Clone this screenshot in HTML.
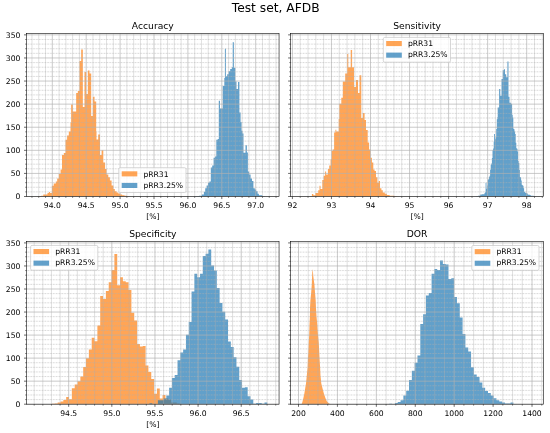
<!DOCTYPE html>
<html lang="en"><head><meta charset="utf-8"><title>Test set, AFDB</title>
<style>html,body{margin:0;padding:0;background:#fff}svg{display:block}</style></head>
<body>
<svg width="550" height="433" viewBox="0 0 550 433" font-family='"DejaVu Sans", "Liberation Sans", sans-serif' fill="#000">
<rect width="550" height="433" fill="#fff"/>
<text x="275.7" y="12.4" text-anchor="middle" font-size="12.25">Test set, AFDB</text>
<clipPath id="c0"><rect x="26.6" y="33.55" width="252.45" height="162.95"/></clipPath>
<rect x="26.6" y="33.55" width="252.45" height="162.95" fill="#fff"/>
<g clip-path="url(#c0)">
<path d="M37.75,196.5L37.75,196.34L39.42,196.34L39.42,196.02L41.09,196.02L41.09,195.81L42.76,195.81L42.76,195.67L43.3,195.67L43.3,194.5L47.5,194.5L47.5,193.1L48.9,193.1L48.9,191.9L50,191.9L50,193L51.9,193L51.9,185.8L53.7,185.8L53.7,183.4L55.8,183.4L55.8,181.6L57.2,181.6L57.2,178.6L58.8,178.6L58.8,174.1L60.6,174.1L60.6,169.6L62,169.6L62,155L63.8,155L63.8,152.9L65.5,152.9L65.5,139.8L67.1,139.8L67.1,135.6L68.8,135.6L68.8,131.6L70.5,131.6L70.5,122.8L71.15,122.8L71.15,104.5L72.82,104.5L72.82,111.5L74.49,111.5L74.49,111.5L76.16,111.5L76.16,92.9L77.83,92.9L77.83,91L79.5,91L79.5,61L81.17,61L81.17,49.6L82.84,49.6L82.84,107L84.51,107L84.51,72L86.18,72L86.18,94L87.85,94L87.85,70.5L89.52,70.5L89.52,73.5L91.19,73.5L91.19,116L92.86,116L92.86,96.8L94.53,96.8L94.53,101.5L96.2,101.5L96.2,131.6L96.5,131.6L96.5,139.5L98.2,139.5L98.2,134.6L100,134.6L100,155L101.6,155L101.6,150.2L103.3,150.2L103.3,162.6L105.1,162.6L105.1,168.9L106.5,168.9L106.5,174.4L108.3,174.4L108.3,177.2L109.9,177.2L109.9,180.6L111.6,180.6L111.6,185.5L113.4,185.5L113.4,189L114.8,189L114.8,191.3L116.6,191.3L116.6,192.4L118.3,192.4L118.3,193.5L120.3,193.5L120.3,194.5L122.1,194.5L122.1,195.2L124.5,195.2L124.5,195.8L127,195.8L127,196.2L129,196.2L129,196.4L129.6,196.4L129.6,196.5Z" fill="#ff7f0e" fill-opacity="0.7"/>
<path d="M195,196.5L195,196.31L196.37,196.31L196.37,196.01L197.74,196.01L197.74,195.91L199.11,195.91L199.11,195.82L200.48,195.82L200.48,195.72L201.8,195.72L201.8,194.5L203.9,194.5L203.9,191.7L205.2,191.7L205.2,188.3L206.6,188.3L206.6,185.5L208,185.5L208,182.7L209.4,182.7L209.4,181.6L210.8,181.6L210.8,167.5L212.2,167.5L212.2,165.4L213.6,165.4L213.6,157.8L214.9,157.8L214.9,156.4L216.3,156.4L216.3,139.8L217.7,139.8L217.7,139L218.8,139L218.8,100.7L220,100.7L220,108.6L222.7,108.6L222.7,86L224.3,86L224.3,78L224.9,78L224.9,48.7L225.9,48.7L225.9,76.2L227.2,76.2L227.2,74.2L228.6,74.2L228.6,71.3L230.2,71.3L230.2,68.9L231.8,68.9L231.8,67.3L232.7,67.3L232.7,42.2L233.9,42.2L233.9,67.7L235.3,67.7L235.3,81.5L236.5,81.5L236.5,88.9L238,88.9L238,82L239.4,82L239.4,112.5L240.6,112.5L240.6,122L241.6,122L241.6,130.7L242.5,130.7L242.5,133.6L243.5,133.6L243.5,152.8L245.5,152.8L245.5,145.3L246.9,145.3L246.9,152.5L247.9,152.5L247.9,171.6L249.2,171.6L249.2,174.4L250.6,174.4L250.6,178.6L252,178.6L252,181.1L253.4,181.1L253.4,188.3L254.8,188.3L254.8,189.4L256.2,189.4L256.2,191.3L257.6,191.3L257.6,193.8L258.9,193.8L258.9,195.2L262.4,195.2L262.4,196L264.87,196L264.87,196.5Z" fill="#1f77b4" fill-opacity="0.7"/>
<path d="M31.96,33.55V196.5M38.74,33.55V196.5M45.52,33.55V196.5M59.08,33.55V196.5M65.86,33.55V196.5M72.64,33.55V196.5M79.42,33.55V196.5M92.98,33.55V196.5M99.76,33.55V196.5M106.54,33.55V196.5M113.32,33.55V196.5M126.88,33.55V196.5M133.66,33.55V196.5M140.44,33.55V196.5M147.22,33.55V196.5M160.78,33.55V196.5M167.56,33.55V196.5M174.34,33.55V196.5M181.12,33.55V196.5M194.68,33.55V196.5M201.46,33.55V196.5M208.24,33.55V196.5M215.02,33.55V196.5M228.58,33.55V196.5M235.36,33.55V196.5M242.14,33.55V196.5M248.92,33.55V196.5M262.48,33.55V196.5M269.26,33.55V196.5M276.04,33.55V196.5" stroke="#b0b0b0" stroke-width="0.65" stroke-opacity="0.6" fill="none"/>
<path d="M26.6,191.88H279.05M26.6,187.26H279.05M26.6,182.65H279.05M26.6,178.03H279.05M26.6,168.79H279.05M26.6,164.17H279.05M26.6,159.56H279.05M26.6,154.94H279.05M26.6,145.7H279.05M26.6,141.08H279.05M26.6,136.47H279.05M26.6,131.85H279.05M26.6,122.61H279.05M26.6,117.99H279.05M26.6,113.38H279.05M26.6,108.76H279.05M26.6,99.52H279.05M26.6,94.9H279.05M26.6,90.29H279.05M26.6,85.67H279.05M26.6,76.43H279.05M26.6,71.81H279.05M26.6,67.2H279.05M26.6,62.58H279.05M26.6,53.34H279.05M26.6,48.72H279.05M26.6,44.11H279.05M26.6,39.49H279.05" stroke="#b0b0b0" stroke-width="0.75" stroke-opacity="0.8" stroke-dasharray="0.8 0.75" fill="none"/>
<path d="M52.3,33.55V196.5M86.2,33.55V196.5M120.1,33.55V196.5M154,33.55V196.5M187.9,33.55V196.5M221.8,33.55V196.5M255.7,33.55V196.5M26.6,196.5H279.05M26.6,173.41H279.05M26.6,150.32H279.05M26.6,127.23H279.05M26.6,104.14H279.05M26.6,81.05H279.05M26.6,57.96H279.05M26.6,34.87H279.05" stroke="#b0b0b0" stroke-width="0.75" stroke-opacity="0.9" fill="none"/>
</g>
<path d="M52.3,196.5v2.6M86.2,196.5v2.6M120.1,196.5v2.6M154,196.5v2.6M187.9,196.5v2.6M221.8,196.5v2.6M255.7,196.5v2.6M26.6,196.5h-2.6M26.6,173.41h-2.6M26.6,150.32h-2.6M26.6,127.23h-2.6M26.6,104.14h-2.6M26.6,81.05h-2.6M26.6,57.96h-2.6M26.6,34.87h-2.6" stroke="#000" stroke-width="0.58" fill="none"/>
<path d="M31.96,196.5v1.5M38.74,196.5v1.5M45.52,196.5v1.5M59.08,196.5v1.5M65.86,196.5v1.5M72.64,196.5v1.5M79.42,196.5v1.5M92.98,196.5v1.5M99.76,196.5v1.5M106.54,196.5v1.5M113.32,196.5v1.5M126.88,196.5v1.5M133.66,196.5v1.5M140.44,196.5v1.5M147.22,196.5v1.5M160.78,196.5v1.5M167.56,196.5v1.5M174.34,196.5v1.5M181.12,196.5v1.5M194.68,196.5v1.5M201.46,196.5v1.5M208.24,196.5v1.5M215.02,196.5v1.5M228.58,196.5v1.5M235.36,196.5v1.5M242.14,196.5v1.5M248.92,196.5v1.5M262.48,196.5v1.5M269.26,196.5v1.5M276.04,196.5v1.5M26.6,191.88h-1.5M26.6,187.26h-1.5M26.6,182.65h-1.5M26.6,178.03h-1.5M26.6,168.79h-1.5M26.6,164.17h-1.5M26.6,159.56h-1.5M26.6,154.94h-1.5M26.6,145.7h-1.5M26.6,141.08h-1.5M26.6,136.47h-1.5M26.6,131.85h-1.5M26.6,122.61h-1.5M26.6,117.99h-1.5M26.6,113.38h-1.5M26.6,108.76h-1.5M26.6,99.52h-1.5M26.6,94.9h-1.5M26.6,90.29h-1.5M26.6,85.67h-1.5M26.6,76.43h-1.5M26.6,71.81h-1.5M26.6,67.2h-1.5M26.6,62.58h-1.5M26.6,53.34h-1.5M26.6,48.72h-1.5M26.6,44.11h-1.5M26.6,39.49h-1.5" stroke="#000" stroke-width="0.44" fill="none"/>
<rect x="26.6" y="33.55" width="252.45" height="162.95" fill="none" stroke="#000" stroke-width="0.58"/>
<text x="52.3" y="208.4" text-anchor="middle" font-size="7.65">94.0</text>
<text x="86.2" y="208.4" text-anchor="middle" font-size="7.65">94.5</text>
<text x="120.1" y="208.4" text-anchor="middle" font-size="7.65">95.0</text>
<text x="154" y="208.4" text-anchor="middle" font-size="7.65">95.5</text>
<text x="187.9" y="208.4" text-anchor="middle" font-size="7.65">96.0</text>
<text x="221.8" y="208.4" text-anchor="middle" font-size="7.65">96.5</text>
<text x="255.7" y="208.4" text-anchor="middle" font-size="7.65">97.0</text>
<text x="20.4" y="199.2" text-anchor="end" font-size="7.65">0</text>
<text x="20.4" y="176.11" text-anchor="end" font-size="7.65">50</text>
<text x="20.4" y="153.02" text-anchor="end" font-size="7.65">100</text>
<text x="20.4" y="129.93" text-anchor="end" font-size="7.65">150</text>
<text x="20.4" y="106.84" text-anchor="end" font-size="7.65">200</text>
<text x="20.4" y="83.75" text-anchor="end" font-size="7.65">250</text>
<text x="20.4" y="60.66" text-anchor="end" font-size="7.65">300</text>
<text x="20.4" y="37.57" text-anchor="end" font-size="7.65">350</text>
<text x="152.83" y="219.1" text-anchor="middle" font-size="7.65">[%]</text>
<text x="152.83" y="29.15" text-anchor="middle" font-size="9.2">Accuracy</text>
<rect x="118.8" y="167.7" width="67.2" height="24.8" rx="1.4" fill="#fff" fill-opacity="0.8" stroke="#c6c6c6" stroke-width="0.7"/>
<rect x="121.7" y="171.3" width="15.6" height="5.1" fill="#ff7f0e" fill-opacity="0.7"/>
<rect x="121.7" y="182.9" width="15.6" height="5.1" fill="#1f77b4" fill-opacity="0.7"/>
<text x="143.4" y="176.5" font-size="7.65">pRR31</text>
<text x="143.4" y="187.6" font-size="7.65">pRR3.25%</text>
<clipPath id="c1"><rect x="290.7" y="33.55" width="252.75" height="162.95"/></clipPath>
<rect x="290.7" y="33.55" width="252.75" height="162.95" fill="#fff"/>
<g clip-path="url(#c1)">
<path d="M310.5,196.5L310.5,196.36L311.5,196.36L311.5,196.3L311.9,196.3L311.9,194.1L313.3,194.1L313.3,195.3L315.4,195.3L315.4,193.1L318.2,193.1L318.2,190.3L319.5,190.3L319.5,185.8L320.5,185.8L320.5,189L322.3,189L322.3,180L323.7,180L323.7,175.8L325.1,175.8L325.1,171.6L326.1,171.6L326.1,174.4L327.9,174.4L327.9,168.9L329.2,168.9L329.2,165.4L330.6,165.4L330.6,159.2L331.6,159.2L331.6,150.9L332.7,150.9L332.7,149.5L334.1,149.5L334.1,132.6L335.4,132.6L335.4,129.7L336.3,129.7L336.3,131.6L338.7,131.6L338.7,118.9L339.3,118.9L339.3,103.7L341.3,103.7L341.3,97.8L342.8,97.8L342.8,81.5L345.2,81.5L345.2,73.6L347.2,73.6L347.2,54L348.3,54L348.3,67.3L350.7,67.3L350.7,50L352.1,50L352.1,67.3L354,67.3L354,87L356,87L356,80.1L358,80.1L358,92.9L359.5,92.9L359.5,75.2L361.3,75.2L361.3,117.9L362.9,117.9L362.9,113L364.6,113L364.6,119.9L366,119.9L366,130L367.7,130L367.7,142.5L369.1,142.5L369.1,149.5L370.5,149.5L370.5,157.8L371.9,157.8L371.9,162.6L373.3,162.6L373.3,169.6L374.6,169.6L374.6,170.9L376,170.9L376,177.2L377.4,177.2L377.4,182.7L378.7,182.7L378.7,181.1L380,181.1L380,188.3L381.4,188.3L381.4,190.3L382.8,190.3L382.8,192.4L384.8,192.4L384.8,193.8L386.9,193.8L386.9,194.9L389.6,194.9L389.6,195.7L394.3,195.7L394.3,196.1L397,196.1L397,196.4L397.5,196.4L397.5,196.5Z" fill="#ff7f0e" fill-opacity="0.7"/>
<path d="M475.5,196.5L475.5,196.37L476.1,196.37L476.1,196.31L476.7,196.31L476.7,196.03L477.3,196.03L477.3,195.95L477.9,195.95L477.9,195.86L478.5,195.86L478.5,195.78L479.1,195.78L479.1,195.69L479.7,195.69L479.7,195.61L480.3,195.61L480.3,194.49L480.9,194.49L480.9,194.44L481.5,194.44L481.5,194.38L482.1,194.38L482.1,194.33L482.7,194.33L482.7,194.28L483.3,194.28L483.3,194.22L483.9,194.22L483.9,194.17L484.5,194.17L484.5,192.95L485.1,192.95L485.1,192.2L485.6,192.2L485.6,182.7L486.5,182.7L486.5,188.65L487.1,188.65L487.1,185.49L487.7,185.49L487.7,179.73L488.3,179.73L488.3,179.31L488.9,179.31L488.9,177.08L489.5,177.08L489.5,175.63L490.1,175.63L490.1,169.87L490.7,169.87L490.7,164.77L491.3,164.77L491.3,163.42L491.9,163.42L491.9,157.95L492.5,157.95L492.5,150.3L493.1,150.3L493.1,148.45L493.7,148.45L493.7,141.45L494.1,141.45L494.1,134L495,134L495,139.19L495.6,139.19L495.6,137.34L496.2,137.34L496.2,128.97L496.8,128.97L496.8,119.31L497.4,119.31L497.4,117.07L497.7,117.07L497.7,107.6L499.1,107.6L499.1,88.9L500.3,88.9L500.3,95.8L501.5,95.8L501.5,79.1L502.7,79.1L502.7,70.3L504,70.3L504,69.3L505,69.3L505,74.2L506.2,74.2L506.2,77.2L507.4,77.2L507.4,61.4L508.5,61.4L508.5,96.8L509.5,96.8L509.5,102.7L510.9,102.7L510.9,103.7L512.1,103.7L512.1,114.83L512.7,114.83L512.7,117.49L513.3,117.49L513.3,128.86L513.9,128.86L513.9,129.18L514.5,129.18L514.5,131.54L515.1,131.54L515.1,134.06L515.7,134.06L515.7,142.69L516.3,142.69L516.3,148.37L516.9,148.37L516.9,148.79L517.5,148.79L517.5,151.56L518.1,151.56L518.1,161.1L518.7,161.1L518.7,162.94L519.3,162.94L519.3,170.02L519.9,170.02L519.9,176.92L520.5,176.92L520.5,177.62L521.1,177.62L521.1,180.49L521.7,180.49L521.7,184.7L522.3,184.7L522.3,185.17L522.9,185.17L522.9,185.64L523.5,185.64L523.5,188.3L524.1,188.3L524.1,191.64L524.7,191.64L524.7,191.85L525.3,191.85L525.3,192.9L525.9,192.9L525.9,193.07L526.5,193.07L526.5,193.24L527.1,193.24L527.1,193.4L527.7,193.4L527.7,194.56L528.3,194.56L528.3,194.64L528.9,194.64L528.9,194.72L529.5,194.72L529.5,194.81L530.1,194.81L530.1,194.89L530.7,194.89L530.7,195.72L531.3,195.72L531.3,195.75L531.9,195.75L531.9,195.79L532.5,195.79L532.5,195.82L533.1,195.82L533.1,195.85L533.7,195.85L533.7,195.88L534.3,195.88L534.3,196.3L534.9,196.3L534.9,196.32L535.5,196.32L535.5,196.33L536.1,196.33L536.1,196.5Z" fill="#1f77b4" fill-opacity="0.7"/>
<path d="M300.21,33.55V196.5M308.02,33.55V196.5M315.83,33.55V196.5M323.64,33.55V196.5M339.26,33.55V196.5M347.07,33.55V196.5M354.88,33.55V196.5M362.69,33.55V196.5M378.31,33.55V196.5M386.12,33.55V196.5M393.93,33.55V196.5M401.74,33.55V196.5M417.36,33.55V196.5M425.17,33.55V196.5M432.98,33.55V196.5M440.79,33.55V196.5M456.41,33.55V196.5M464.22,33.55V196.5M472.03,33.55V196.5M479.84,33.55V196.5M495.46,33.55V196.5M503.27,33.55V196.5M511.08,33.55V196.5M518.89,33.55V196.5M534.51,33.55V196.5M542.32,33.55V196.5" stroke="#b0b0b0" stroke-width="0.65" stroke-opacity="0.6" fill="none"/>
<path d="M290.7,191.88H543.45M290.7,187.26H543.45M290.7,182.65H543.45M290.7,178.03H543.45M290.7,168.79H543.45M290.7,164.17H543.45M290.7,159.56H543.45M290.7,154.94H543.45M290.7,145.7H543.45M290.7,141.08H543.45M290.7,136.47H543.45M290.7,131.85H543.45M290.7,122.61H543.45M290.7,117.99H543.45M290.7,113.38H543.45M290.7,108.76H543.45M290.7,99.52H543.45M290.7,94.9H543.45M290.7,90.29H543.45M290.7,85.67H543.45M290.7,76.43H543.45M290.7,71.81H543.45M290.7,67.2H543.45M290.7,62.58H543.45M290.7,53.34H543.45M290.7,48.72H543.45M290.7,44.11H543.45M290.7,39.49H543.45" stroke="#b0b0b0" stroke-width="0.75" stroke-opacity="0.8" stroke-dasharray="0.8 0.75" fill="none"/>
<path d="M292.4,33.55V196.5M331.45,33.55V196.5M370.5,33.55V196.5M409.55,33.55V196.5M448.6,33.55V196.5M487.65,33.55V196.5M526.7,33.55V196.5M290.7,196.5H543.45M290.7,173.41H543.45M290.7,150.32H543.45M290.7,127.23H543.45M290.7,104.14H543.45M290.7,81.05H543.45M290.7,57.96H543.45M290.7,34.87H543.45" stroke="#b0b0b0" stroke-width="0.75" stroke-opacity="0.9" fill="none"/>
</g>
<path d="M292.4,196.5v2.6M331.45,196.5v2.6M370.5,196.5v2.6M409.55,196.5v2.6M448.6,196.5v2.6M487.65,196.5v2.6M526.7,196.5v2.6M290.7,196.5h-2.6M290.7,173.41h-2.6M290.7,150.32h-2.6M290.7,127.23h-2.6M290.7,104.14h-2.6M290.7,81.05h-2.6M290.7,57.96h-2.6M290.7,34.87h-2.6" stroke="#000" stroke-width="0.58" fill="none"/>
<path d="M300.21,196.5v1.5M308.02,196.5v1.5M315.83,196.5v1.5M323.64,196.5v1.5M339.26,196.5v1.5M347.07,196.5v1.5M354.88,196.5v1.5M362.69,196.5v1.5M378.31,196.5v1.5M386.12,196.5v1.5M393.93,196.5v1.5M401.74,196.5v1.5M417.36,196.5v1.5M425.17,196.5v1.5M432.98,196.5v1.5M440.79,196.5v1.5M456.41,196.5v1.5M464.22,196.5v1.5M472.03,196.5v1.5M479.84,196.5v1.5M495.46,196.5v1.5M503.27,196.5v1.5M511.08,196.5v1.5M518.89,196.5v1.5M534.51,196.5v1.5M542.32,196.5v1.5M290.7,191.88h-1.5M290.7,187.26h-1.5M290.7,182.65h-1.5M290.7,178.03h-1.5M290.7,168.79h-1.5M290.7,164.17h-1.5M290.7,159.56h-1.5M290.7,154.94h-1.5M290.7,145.7h-1.5M290.7,141.08h-1.5M290.7,136.47h-1.5M290.7,131.85h-1.5M290.7,122.61h-1.5M290.7,117.99h-1.5M290.7,113.38h-1.5M290.7,108.76h-1.5M290.7,99.52h-1.5M290.7,94.9h-1.5M290.7,90.29h-1.5M290.7,85.67h-1.5M290.7,76.43h-1.5M290.7,71.81h-1.5M290.7,67.2h-1.5M290.7,62.58h-1.5M290.7,53.34h-1.5M290.7,48.72h-1.5M290.7,44.11h-1.5M290.7,39.49h-1.5" stroke="#000" stroke-width="0.44" fill="none"/>
<rect x="290.7" y="33.55" width="252.75" height="162.95" fill="none" stroke="#000" stroke-width="0.58"/>
<text x="292.4" y="208.4" text-anchor="middle" font-size="7.65">92</text>
<text x="331.45" y="208.4" text-anchor="middle" font-size="7.65">93</text>
<text x="370.5" y="208.4" text-anchor="middle" font-size="7.65">94</text>
<text x="409.55" y="208.4" text-anchor="middle" font-size="7.65">95</text>
<text x="448.6" y="208.4" text-anchor="middle" font-size="7.65">96</text>
<text x="487.65" y="208.4" text-anchor="middle" font-size="7.65">97</text>
<text x="526.7" y="208.4" text-anchor="middle" font-size="7.65">98</text>
<text x="417.08" y="219.1" text-anchor="middle" font-size="7.65">[%]</text>
<text x="417.08" y="29.15" text-anchor="middle" font-size="9.2">Sensitivity</text>
<rect x="383.3" y="37.4" width="67.2" height="24.8" rx="1.4" fill="#fff" fill-opacity="0.8" stroke="#c6c6c6" stroke-width="0.7"/>
<rect x="386.2" y="41" width="15.6" height="5.1" fill="#ff7f0e" fill-opacity="0.7"/>
<rect x="386.2" y="52.6" width="15.6" height="5.1" fill="#1f77b4" fill-opacity="0.7"/>
<text x="407.9" y="46.2" font-size="7.65">pRR31</text>
<text x="407.9" y="57.3" font-size="7.65">pRR3.25%</text>
<clipPath id="c2"><rect x="26.6" y="241.6" width="252.45" height="162.6"/></clipPath>
<rect x="26.6" y="241.6" width="252.45" height="162.6" fill="#fff"/>
<g clip-path="url(#c2)">
<path d="M52,404.2L52,403.7L54.84,403.7L54.84,403.4L57.67,403.4L57.67,402.5L60.51,402.5L60.51,401.5L63.34,401.5L63.34,400L66.18,400L66.18,397L69.02,397L69.02,399.3L71.85,399.3L71.85,388.3L74.69,388.3L74.69,384.4L77.52,384.4L77.52,381.2L80.36,381.2L80.36,376.5L83.2,376.5L83.2,367L86.03,367L86.03,358.2L88.87,358.2L88.87,349.6L91.7,349.6L91.7,337.7L94.54,337.7L94.54,341.2L97.38,341.2L97.38,325.5L100.21,325.5L100.21,296L103.05,296L103.05,298.9L105.88,298.9L105.88,291.1L108.72,291.1L108.72,282.2L111.56,282.2L111.56,269.9L114.39,269.9L114.39,254.1L117.23,254.1L117.23,285.2L120.06,285.2L120.06,277.3L122.9,277.3L122.9,281.3L125.74,281.3L125.74,282.2L128.57,282.2L128.57,290.1L131.41,290.1L131.41,312.7L134.24,312.7L134.24,320.5L137.08,320.5L137.08,344L139.92,344L139.92,346.5L142.75,346.5L142.75,346L145.59,346L145.59,365.6L148.42,365.6L148.42,372.1L151.26,372.1L151.26,378.9L154.1,378.9L154.1,393.7L156.93,393.7L156.93,388.4L159.77,388.4L159.77,398.6L162.6,398.6L162.6,395L165.44,395L165.44,398.6L168.28,398.6L168.28,399.6L171.11,399.6L171.11,402.5L173.95,402.5L173.95,402.5L176.78,402.5L176.78,403.5L179.62,403.5L179.62,404.2Z" fill="#ff7f0e" fill-opacity="0.7"/>
<path d="M149.47,404.2L149.47,403.3L152.28,403.3L152.28,404.2L155.08,404.2L155.08,404.2L157.89,404.2L157.89,400.3L160.69,400.3L160.69,400.3L163.5,400.3L163.5,398.6L166.31,398.6L166.31,395.6L169.11,395.6L169.11,387.8L171.92,387.8L171.92,378L174.72,378L174.72,375L177.53,375L177.53,360.3L180.34,360.3L180.34,352.4L183.14,352.4L183.14,349.5L185.95,349.5L185.95,334.7L188.75,334.7L188.75,322L191.56,322L191.56,291.5L194.37,291.5L194.37,273.8L197.17,273.8L197.17,277.3L199.98,277.3L199.98,273.8L202.78,273.8L202.78,256.1L205.59,256.1L205.59,253.8L208.4,253.8L208.4,249.4L211.2,249.4L211.2,265.5L214.01,265.5L214.01,270.5L216.81,270.5L216.81,288.1L219.62,288.1L219.62,302.9L222.43,302.9L222.43,311.7L225.23,311.7L225.23,319.6L228.04,319.6L228.04,341.6L230.84,341.6L230.84,347.1L233.65,347.1L233.65,357.3L236.46,357.3L236.46,366.8L239.26,366.8L239.26,379.9L242.07,379.9L242.07,387.8L244.87,387.8L244.87,387.2L247.68,387.2L247.68,396.2L250.49,396.2L250.49,399.6L253.29,399.6L253.29,403.7L256.1,403.7L256.1,402.9L258.9,402.9L258.9,402.9L261.71,402.9L261.71,403.7L264.52,403.7L264.52,402.5L267.32,402.5L267.32,404.2Z" fill="#1f77b4" fill-opacity="0.7"/>
<path d="M34.2,241.6V404.2M42.82,241.6V404.2M51.45,241.6V404.2M60.07,241.6V404.2M77.33,241.6V404.2M85.95,241.6V404.2M94.58,241.6V404.2M103.2,241.6V404.2M120.46,241.6V404.2M129.08,241.6V404.2M137.71,241.6V404.2M146.33,241.6V404.2M163.59,241.6V404.2M172.21,241.6V404.2M180.84,241.6V404.2M189.46,241.6V404.2M206.72,241.6V404.2M215.34,241.6V404.2M223.97,241.6V404.2M232.59,241.6V404.2M249.85,241.6V404.2M258.47,241.6V404.2M267.1,241.6V404.2M275.72,241.6V404.2" stroke="#b0b0b0" stroke-width="0.65" stroke-opacity="0.6" fill="none"/>
<path d="M26.6,399.59H279.05M26.6,394.98H279.05M26.6,390.38H279.05M26.6,385.77H279.05M26.6,376.55H279.05M26.6,371.94H279.05M26.6,367.34H279.05M26.6,362.73H279.05M26.6,353.51H279.05M26.6,348.9H279.05M26.6,344.3H279.05M26.6,339.69H279.05M26.6,330.47H279.05M26.6,325.86H279.05M26.6,321.26H279.05M26.6,316.65H279.05M26.6,307.43H279.05M26.6,302.82H279.05M26.6,298.22H279.05M26.6,293.61H279.05M26.6,284.39H279.05M26.6,279.78H279.05M26.6,275.18H279.05M26.6,270.57H279.05M26.6,261.35H279.05M26.6,256.74H279.05M26.6,252.14H279.05M26.6,247.53H279.05" stroke="#b0b0b0" stroke-width="0.75" stroke-opacity="0.8" stroke-dasharray="0.8 0.75" fill="none"/>
<path d="M68.7,241.6V404.2M111.83,241.6V404.2M154.96,241.6V404.2M198.09,241.6V404.2M241.22,241.6V404.2M26.6,404.2H279.05M26.6,381.16H279.05M26.6,358.12H279.05M26.6,335.08H279.05M26.6,312.04H279.05M26.6,289H279.05M26.6,265.96H279.05M26.6,242.92H279.05" stroke="#b0b0b0" stroke-width="0.75" stroke-opacity="0.9" fill="none"/>
</g>
<path d="M68.7,404.2v2.6M111.83,404.2v2.6M154.96,404.2v2.6M198.09,404.2v2.6M241.22,404.2v2.6M26.6,404.2h-2.6M26.6,381.16h-2.6M26.6,358.12h-2.6M26.6,335.08h-2.6M26.6,312.04h-2.6M26.6,289h-2.6M26.6,265.96h-2.6M26.6,242.92h-2.6" stroke="#000" stroke-width="0.58" fill="none"/>
<path d="M34.2,404.2v1.5M42.82,404.2v1.5M51.45,404.2v1.5M60.07,404.2v1.5M77.33,404.2v1.5M85.95,404.2v1.5M94.58,404.2v1.5M103.2,404.2v1.5M120.46,404.2v1.5M129.08,404.2v1.5M137.71,404.2v1.5M146.33,404.2v1.5M163.59,404.2v1.5M172.21,404.2v1.5M180.84,404.2v1.5M189.46,404.2v1.5M206.72,404.2v1.5M215.34,404.2v1.5M223.97,404.2v1.5M232.59,404.2v1.5M249.85,404.2v1.5M258.47,404.2v1.5M267.1,404.2v1.5M275.72,404.2v1.5M26.6,399.59h-1.5M26.6,394.98h-1.5M26.6,390.38h-1.5M26.6,385.77h-1.5M26.6,376.55h-1.5M26.6,371.94h-1.5M26.6,367.34h-1.5M26.6,362.73h-1.5M26.6,353.51h-1.5M26.6,348.9h-1.5M26.6,344.3h-1.5M26.6,339.69h-1.5M26.6,330.47h-1.5M26.6,325.86h-1.5M26.6,321.26h-1.5M26.6,316.65h-1.5M26.6,307.43h-1.5M26.6,302.82h-1.5M26.6,298.22h-1.5M26.6,293.61h-1.5M26.6,284.39h-1.5M26.6,279.78h-1.5M26.6,275.18h-1.5M26.6,270.57h-1.5M26.6,261.35h-1.5M26.6,256.74h-1.5M26.6,252.14h-1.5M26.6,247.53h-1.5" stroke="#000" stroke-width="0.44" fill="none"/>
<rect x="26.6" y="241.6" width="252.45" height="162.6" fill="none" stroke="#000" stroke-width="0.58"/>
<text x="68.7" y="416.1" text-anchor="middle" font-size="7.65">94.5</text>
<text x="111.83" y="416.1" text-anchor="middle" font-size="7.65">95.0</text>
<text x="154.96" y="416.1" text-anchor="middle" font-size="7.65">95.5</text>
<text x="198.09" y="416.1" text-anchor="middle" font-size="7.65">96.0</text>
<text x="241.22" y="416.1" text-anchor="middle" font-size="7.65">96.5</text>
<text x="20.4" y="406.9" text-anchor="end" font-size="7.65">0</text>
<text x="20.4" y="383.86" text-anchor="end" font-size="7.65">50</text>
<text x="20.4" y="360.82" text-anchor="end" font-size="7.65">100</text>
<text x="20.4" y="337.78" text-anchor="end" font-size="7.65">150</text>
<text x="20.4" y="314.74" text-anchor="end" font-size="7.65">200</text>
<text x="20.4" y="291.7" text-anchor="end" font-size="7.65">250</text>
<text x="20.4" y="268.66" text-anchor="end" font-size="7.65">300</text>
<text x="20.4" y="245.62" text-anchor="end" font-size="7.65">350</text>
<text x="152.83" y="426.8" text-anchor="middle" font-size="7.65">[%]</text>
<text x="152.83" y="237.2" text-anchor="middle" font-size="9.2">Specificity</text>
<rect x="30.6" y="245.4" width="67.2" height="24.8" rx="1.4" fill="#fff" fill-opacity="0.8" stroke="#c6c6c6" stroke-width="0.7"/>
<rect x="33.5" y="249" width="15.6" height="5.1" fill="#ff7f0e" fill-opacity="0.7"/>
<rect x="33.5" y="260.6" width="15.6" height="5.1" fill="#1f77b4" fill-opacity="0.7"/>
<text x="55.2" y="254.2" font-size="7.65">pRR31</text>
<text x="55.2" y="265.3" font-size="7.65">pRR3.25%</text>
<clipPath id="c3"><rect x="290.7" y="241.6" width="252.75" height="162.6"/></clipPath>
<rect x="290.7" y="241.6" width="252.75" height="162.6" fill="#fff"/>
<g clip-path="url(#c3)">
<path d="M301.5,404.2L301.5,404.2L302,403.2L302.6,401.3L303.4,398L304.4,393.2L305.2,388.3L306,383.5L306.8,375.4L307.6,367.3L307.9,359.2L308.4,351.2L308.7,343.1L309.2,335L309.35,329.5L309.5,324.7L309.9,316.6L310,308.5L310.4,300.4L311.2,292.3L311.8,284.2L312.1,276.2L312.4,268.9L313,272.5L313.3,276.2L314.4,284.2L315,292.3L315.7,300.4L316,308.5L316.5,316.6L317.3,324.7L317.6,329.5L318,335L318.8,343.1L319.2,351.2L319.6,359.2L320.1,367.3L320.5,375.4L321.3,383.5L322.5,388.3L323.8,393.2L325.4,398L326.8,401.3L329,403.4L331,404.2L331,404.2Z" fill="#ff7f0e" fill-opacity="0.7"/>
<path d="M389.28,404.2L389.28,403.7L392.1,403.7L392.1,404.2L394.92,404.2L394.92,402.9L397.74,402.9L397.74,402.1L400.56,402.1L400.56,400.2L403.38,400.2L403.38,395.6L406.2,395.6L406.2,390.7L409.02,390.7L409.02,379.9L411.84,379.9L411.84,370.7L414.66,370.7L414.66,362.8L417.48,362.8L417.48,355.4L420.3,355.4L420.3,323.9L423.12,323.9L423.12,314.3L425.94,314.3L425.94,295.4L428.76,295.4L428.76,293L431.58,293L431.58,273.8L434.4,273.8L434.4,269.1L437.22,269.1L437.22,269.9L440.04,269.9L440.04,260.6L442.86,260.6L442.86,264L445.68,264L445.68,264.6L448.5,264.6L448.5,278.9L451.32,278.9L451.32,278.3L454.14,278.3L454.14,297L456.96,297L456.96,303.3L459.78,303.3L459.78,317.6L462.6,317.6L462.6,334.1L465.42,334.1L465.42,347.5L468.24,347.5L468.24,351.4L471.06,351.4L471.06,367.2L473.88,367.2L473.88,374.6L476.7,374.6L476.7,377L479.52,377L479.52,382.5L482.34,382.5L482.34,387.8L485.16,387.8L485.16,391.1L487.98,391.1L487.98,393.1L490.8,393.1L490.8,395.6L493.62,395.6L493.62,398.2L496.44,398.2L496.44,400.2L499.26,400.2L499.26,401.5L502.08,401.5L502.08,402.5L504.9,402.5L504.9,403.5L507.72,403.5L507.72,403.5L510.54,403.5L510.54,402.5L513.36,402.5L513.36,403.9L516.18,403.9L516.18,404.2Z" fill="#1f77b4" fill-opacity="0.7"/>
<path d="M308.23,241.6V404.2M317.96,241.6V404.2M327.69,241.6V404.2M347.15,241.6V404.2M356.88,241.6V404.2M366.61,241.6V404.2M386.07,241.6V404.2M395.8,241.6V404.2M405.53,241.6V404.2M424.99,241.6V404.2M434.72,241.6V404.2M444.45,241.6V404.2M463.91,241.6V404.2M473.64,241.6V404.2M483.37,241.6V404.2M502.83,241.6V404.2M512.56,241.6V404.2M522.29,241.6V404.2M541.75,241.6V404.2" stroke="#b0b0b0" stroke-width="0.65" stroke-opacity="0.6" fill="none"/>
<path d="M290.7,399.59H543.45M290.7,394.98H543.45M290.7,390.38H543.45M290.7,385.77H543.45M290.7,376.55H543.45M290.7,371.94H543.45M290.7,367.34H543.45M290.7,362.73H543.45M290.7,353.51H543.45M290.7,348.9H543.45M290.7,344.3H543.45M290.7,339.69H543.45M290.7,330.47H543.45M290.7,325.86H543.45M290.7,321.26H543.45M290.7,316.65H543.45M290.7,307.43H543.45M290.7,302.82H543.45M290.7,298.22H543.45M290.7,293.61H543.45M290.7,284.39H543.45M290.7,279.78H543.45M290.7,275.18H543.45M290.7,270.57H543.45M290.7,261.35H543.45M290.7,256.74H543.45M290.7,252.14H543.45M290.7,247.53H543.45" stroke="#b0b0b0" stroke-width="0.75" stroke-opacity="0.8" stroke-dasharray="0.8 0.75" fill="none"/>
<path d="M298.5,241.6V404.2M337.42,241.6V404.2M376.34,241.6V404.2M415.26,241.6V404.2M454.18,241.6V404.2M493.1,241.6V404.2M532.02,241.6V404.2M290.7,404.2H543.45M290.7,381.16H543.45M290.7,358.12H543.45M290.7,335.08H543.45M290.7,312.04H543.45M290.7,289H543.45M290.7,265.96H543.45M290.7,242.92H543.45" stroke="#b0b0b0" stroke-width="0.75" stroke-opacity="0.9" fill="none"/>
</g>
<path d="M298.5,404.2v2.6M337.42,404.2v2.6M376.34,404.2v2.6M415.26,404.2v2.6M454.18,404.2v2.6M493.1,404.2v2.6M532.02,404.2v2.6M290.7,404.2h-2.6M290.7,381.16h-2.6M290.7,358.12h-2.6M290.7,335.08h-2.6M290.7,312.04h-2.6M290.7,289h-2.6M290.7,265.96h-2.6M290.7,242.92h-2.6" stroke="#000" stroke-width="0.58" fill="none"/>
<path d="M308.23,404.2v1.5M317.96,404.2v1.5M327.69,404.2v1.5M347.15,404.2v1.5M356.88,404.2v1.5M366.61,404.2v1.5M386.07,404.2v1.5M395.8,404.2v1.5M405.53,404.2v1.5M424.99,404.2v1.5M434.72,404.2v1.5M444.45,404.2v1.5M463.91,404.2v1.5M473.64,404.2v1.5M483.37,404.2v1.5M502.83,404.2v1.5M512.56,404.2v1.5M522.29,404.2v1.5M541.75,404.2v1.5M290.7,399.59h-1.5M290.7,394.98h-1.5M290.7,390.38h-1.5M290.7,385.77h-1.5M290.7,376.55h-1.5M290.7,371.94h-1.5M290.7,367.34h-1.5M290.7,362.73h-1.5M290.7,353.51h-1.5M290.7,348.9h-1.5M290.7,344.3h-1.5M290.7,339.69h-1.5M290.7,330.47h-1.5M290.7,325.86h-1.5M290.7,321.26h-1.5M290.7,316.65h-1.5M290.7,307.43h-1.5M290.7,302.82h-1.5M290.7,298.22h-1.5M290.7,293.61h-1.5M290.7,284.39h-1.5M290.7,279.78h-1.5M290.7,275.18h-1.5M290.7,270.57h-1.5M290.7,261.35h-1.5M290.7,256.74h-1.5M290.7,252.14h-1.5M290.7,247.53h-1.5" stroke="#000" stroke-width="0.44" fill="none"/>
<rect x="290.7" y="241.6" width="252.75" height="162.6" fill="none" stroke="#000" stroke-width="0.58"/>
<text x="298.5" y="416.1" text-anchor="middle" font-size="7.65">200</text>
<text x="337.42" y="416.1" text-anchor="middle" font-size="7.65">400</text>
<text x="376.34" y="416.1" text-anchor="middle" font-size="7.65">600</text>
<text x="415.26" y="416.1" text-anchor="middle" font-size="7.65">800</text>
<text x="454.18" y="416.1" text-anchor="middle" font-size="7.65">1000</text>
<text x="493.1" y="416.1" text-anchor="middle" font-size="7.65">1200</text>
<text x="532.02" y="416.1" text-anchor="middle" font-size="7.65">1400</text>
<text x="417.08" y="237.2" text-anchor="middle" font-size="9.2">DOR</text>
<rect x="471.8" y="245.5" width="67.2" height="24.8" rx="1.4" fill="#fff" fill-opacity="0.8" stroke="#c6c6c6" stroke-width="0.7"/>
<rect x="474.7" y="249.1" width="15.6" height="5.1" fill="#ff7f0e" fill-opacity="0.7"/>
<rect x="474.7" y="260.7" width="15.6" height="5.1" fill="#1f77b4" fill-opacity="0.7"/>
<text x="496.4" y="254.3" font-size="7.65">pRR31</text>
<text x="496.4" y="265.4" font-size="7.65">pRR3.25%</text>
</svg>
</body></html>
